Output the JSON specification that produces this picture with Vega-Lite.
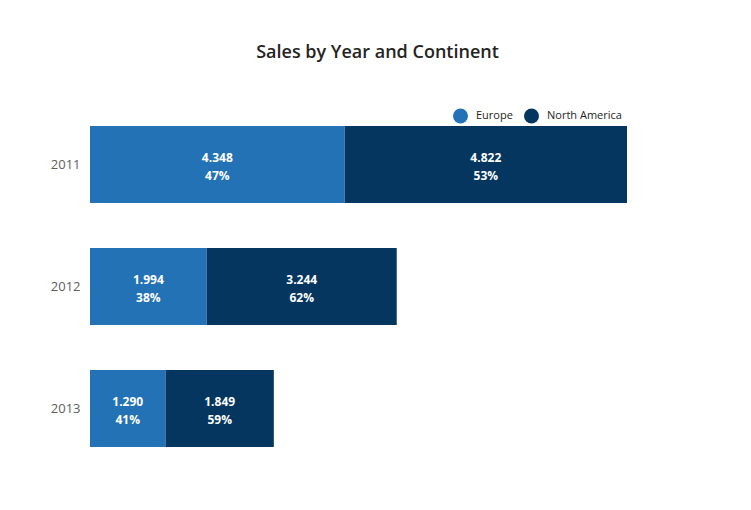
{
  "$schema": "https://vega.github.io/schema/vega-lite/v6.json",
  "autosize": {"type": "none"},
  "padding": {"left": 90, "top": 103.5, "right": 124, "bottom": 40},
  "width": 537,
  "height": 366,
  "background": "white",
  "config": {"view": {"stroke": null}},
  "title": {
    "text": "Sales by Year and Continent",
    "font": "Open Sans",
    "fontSize": 18,
    "fontWeight": 600,
    "color": "#252423",
    "anchor": "middle",
    "dx": 19,
    "offset": 42
  },
  "data": {
    "values": [
      {"year": "2011", "continent": "Europe", "order": 1, "value": 4348, "label": "4.348", "pct": "47%"},
      {"year": "2011", "continent": "North America", "order": 2, "value": 4822, "label": "4.822", "pct": "53%"},
      {"year": "2012", "continent": "Europe", "order": 1, "value": 1994, "label": "1.994", "pct": "38%"},
      {"year": "2012", "continent": "North America", "order": 2, "value": 3244, "label": "3.244", "pct": "62%"},
      {"year": "2013", "continent": "Europe", "order": 1, "value": 1290, "label": "1.290", "pct": "41%"},
      {"year": "2013", "continent": "North America", "order": 2, "value": 1849, "label": "1.849", "pct": "59%"}
    ]
  },
  "transform": [
    {"stack": "value", "groupby": ["year"], "sort": [{"field": "order"}], "as": ["v0", "v1"]},
    {"calculate": "(datum.v0 + datum.v1) / 2", "as": "mid"}
  ],
  "encoding": {
    "y": {
      "field": "year",
      "type": "nominal",
      "title": null,
      "scale": {"paddingInner": 0.37, "paddingOuter": 0.185},
      "axis": {
        "domain": false,
        "ticks": false,
        "grid": false,
        "labelFont": "Open Sans",
        "labelFontSize": 13,
        "labelColor": "#605E5C",
        "labelPadding": 10
      }
    }
  },
  "layer": [
    {
      "mark": {"type": "bar"},
      "encoding": {
        "x": {"field": "v0", "type": "quantitative", "scale": {"domain": [0, 9170], "nice": false}, "axis": null},
        "x2": {"field": "v1"},
        "color": {
          "field": "continent",
          "type": "nominal",
          "scale": {"domain": ["Europe", "North America"], "range": ["#2372B5", "#04365F"]},
          "legend": {
            "title": null,
            "orient": "top-right",
            "direction": "horizontal",
            "offset": 5,
            "symbolType": "circle",
            "symbolSize": 225,
            "symbolStrokeWidth": 0,
            "labelFont": "Open Sans",
            "labelFontSize": 11,
            "labelColor": "#252423",
            "labelOffset": 8,
            "columnPadding": 11
          }
        }
      }
    },
    {
      "mark": {"type": "text", "font": "Open Sans", "fontSize": 12, "fontWeight": "bold", "color": "white", "dy": -7},
      "encoding": {
        "x": {"field": "mid", "type": "quantitative"},
        "text": {"field": "label"}
      }
    },
    {
      "mark": {"type": "text", "font": "Open Sans", "fontSize": 12, "fontWeight": "bold", "color": "white", "dy": 11},
      "encoding": {
        "x": {"field": "mid", "type": "quantitative"},
        "text": {"field": "pct"}
      }
    }
  ]
}
